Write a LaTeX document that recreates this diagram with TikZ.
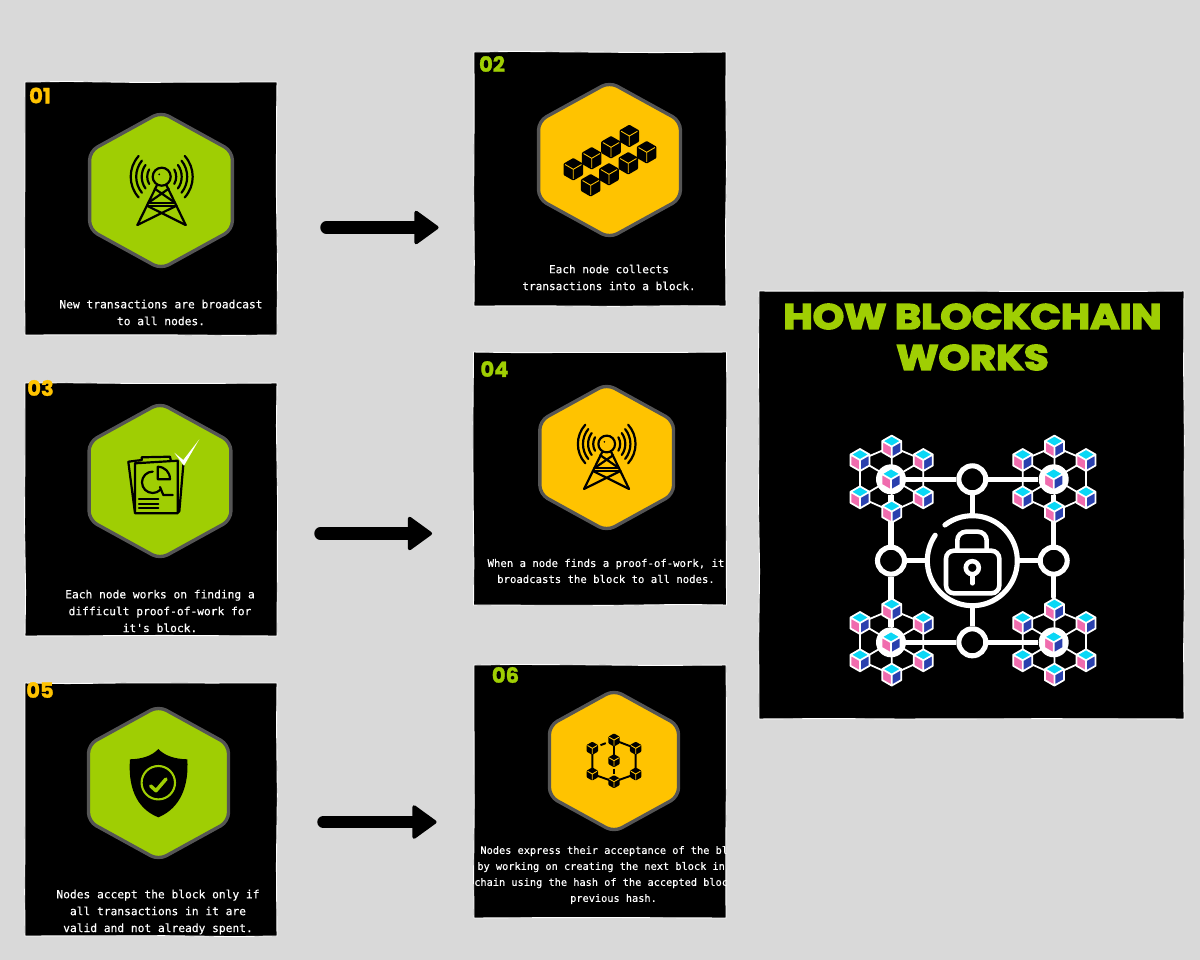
\documentclass[tikz,border=0pt]{standalone}
\usepackage{fontspec}
\newfontfamily\cardfont{DejaVu Sans Mono}[FakeBold=0.3]
\newfontfamily\headfont{Poppins}[BoldFeatures={FakeBold=1.4}]
\newfontfamily\titlefont{Poppins}[BoldFeatures={FakeBold=4.5,FakeStretch=1.14}]
\definecolor{canvasgray}{HTML}{D9D9D9}
\definecolor{limegreen}{HTML}{9FCE03}
\definecolor{amber}{HTML}{FFC300}
\definecolor{rimgray}{HTML}{555555}
\definecolor{cubecyan}{HTML}{0AD7F5}
\definecolor{cubepink}{HTML}{F06CAE}
\definecolor{cubeblue}{HTML}{2A40AE}
\usetikzlibrary{arrows.meta, positioning, shapes.geometric, calc, decorations.pathmorphing}

\begin{document}
\begin{tikzpicture}[
    x=0.02cm, y=-0.02cm,
    card/.style={
      rectangle, fill=black, draw=white, line width=0.5pt,
      decorate, decoration={random steps, segment length=1.4cm, amplitude=0.35pt},
      minimum width=#1, inner sep=0pt
    },
    hexbadge/.style={
      regular polygon, regular polygon sides=6, shape border rotate=30,
      fill=#1, draw=rimgray, line width=1.9pt, rounded corners=5pt,
      xscale=1.05, inner sep=0pt
    },
    steptext/.style 2 args={
      font=\cardfont\fontsize{#1}{#2}\selectfont, text=white, align=center, inner sep=0pt
    },
    stepnum/.style={font=\headfont\bfseries\fontsize{12}{12}\selectfont, text=#1, inner sep=0pt},
    flow/.style={
      line width=7pt, line cap=round,
      -{Triangle[length=14.5pt, width=20.5pt, round, line width=2pt]}
    },
    iconline/.style={draw=black, line width=1.25pt, line join=round, line cap=round},
    bigline/.style={draw=white, line width=2.9pt, line cap=round},
    ringnode/.style={circle, draw=white, fill=black, line width=2.9pt, minimum size=0.54cm, inner sep=0pt},
    hubnode/.style={circle, fill=white, minimum size=0.6cm, inner sep=0pt},
    signaltower/.pic={
      \draw[iconline] (0,0) circle (9);
      \fill[black] (-2.5,-2.3) circle (1);
      \foreach \r/\a in {31/42,25.5/39,20/36,14.5/30} {
        \draw[iconline] (-\a:\r) arc[start angle=-\a, end angle=\a, radius=\r];
        \draw[iconline] ({180-\a}:\r) arc[start angle={180-\a}, end angle={180+\a}, radius=\r];
      }
      \draw[iconline] (-24.3,48.3) -- (-5,9) (24,48.3) -- (5,9);
      \draw[iconline] (-13.3,26) -- (13.3,26) (-14.8,29) -- (14.8,29);
      \draw[iconline] (-7,12) -- (13.3,26) (7,12) -- (-13.3,26);
      \draw[iconline] (-14.8,29) -- (24,48.3) (14.8,29) -- (-24.3,48.3);
    },
    solidcube/.pic={
      \fill[black, rounded corners=0.5pt] (0,-1) -- (0.866,-0.5) -- (0.866,0.5) -- (0,1) -- (-0.866,0.5) -- (-0.866,-0.5) -- cycle;
      \draw[#1, line width=0.5pt] (-0.72,-0.42) -- (0,0) -- (0.72,-0.42) (0,0) -- (0,0.85);
    },
    blockcube/.pic={
      \fill[cubecyan] (0,-1) -- (0.866,-0.5) -- (0,0) -- (-0.866,-0.5) -- cycle;
      \fill[cubepink] (-0.866,-0.5) -- (0,0) -- (0,1) -- (-0.866,0.5) -- cycle;
      \fill[cubeblue] (0.866,-0.5) -- (0,0) -- (0,1) -- (0.866,0.5) -- cycle;
      \draw[white, line width=1pt, line join=round] (0,-1) -- (0.866,-0.5) -- (0.866,0.5) -- (0,1) -- (-0.866,0.5) -- (-0.866,-0.5) -- cycle
        (-0.866,-0.5) -- (0,0) -- (0.866,-0.5) (0,0) -- (0,1);
    },
    blockcluster/.pic={
      \draw[white, line width=1pt] (0.7,-32.7) -- (32.3,-19.3) -- (32.3,18) -- (0.7,32.3) -- (-31,18) -- (-31,-19.3) -- cycle
        (0.7,-32.7) -- (0.7,32.3) (32.3,-19.3) -- (-31,18) (32.3,18) -- (-31,-19.3);
      \foreach \ox/\oy in {0.7/-32.7,32.3/-19.3,32.3/18,0.7/32.3,-31/18,-31/-19.3,0/0} {
        \pic[scale=11] at (\ox,\oy) {blockcube};
      }
    }
  ]
    \fill[canvasgray] (0,0) rectangle (1200,960);
    \useasboundingbox (0,0) rectangle (1200,960);

    % cards
    \node[card=5.04cm, minimum height=5.06cm] (card1) at (151,208.5) {};
    \node[card=5.04cm, minimum height=5.08cm] (card2) at (600,179)   {};
    \node[card=5.04cm, minimum height=5.06cm] (card3) at (151,509.5) {};
    \node[card=5.06cm, minimum height=5.06cm] (card4) at (600,478.5) {};
    \node[card=5.04cm, minimum height=5.06cm] (card5) at (151,809.5) {};
    \node[card=5.04cm, minimum height=5.06cm] (card6) at (600,791.5) {};
    \node[card=8.5cm,  minimum height=8.56cm] (cardhow) at (971.5,505) {};

    % badges
    \node[hexbadge=limegreen, minimum size=3.14cm] (hex1) at (161,190.5) {};
    \node[hexbadge=amber,     minimum size=3.12cm] (hex2) at (609.5,160) {};
    \node[hexbadge=limegreen, minimum size=3.12cm] (hex3) at (160,481)   {};
    \node[hexbadge=amber,     minimum size=2.94cm] (hex4) at (606.7,457.5) {};
    \node[hexbadge=limegreen, minimum size=3.08cm] (hex5) at (158.5,783) {};
    \node[hexbadge=amber,     minimum size=2.84cm] (hex6) at (614,761)   {};

    % numbers
    \node[stepnum=amber]     (num1) at (40,95.5)  {01};
    \node[stepnum=limegreen] (num2) at (492,64)   {02};
    \node[stepnum=amber]     (num3) at (40.5,388) {03};
    \node[stepnum=limegreen] (num4) at (494.5,369){04};
    \node[stepnum=amber]     (num5) at (40,690)   {05};
    \node[stepnum=limegreen] (num6) at (505.5,675){06};

    % captions
    \node[steptext={6.4}{9.6}] (txt1) at (161,312.5) {New transactions are broadcast\\to all nodes.};
    \node[steptext={6.3}{9.6}] (txt2) at (609,277.5) {Each node collects\\transactions into a block.};
    \node[steptext={6.4}{9.6}] (txt3) at (160,611)   {Each node works on finding a\\difficult proof-of-work for\\it's block.};
    \node[steptext={6.05}{9.1}] (txt4) at (606,571)  {When a node finds a proof-of-work, it\\broadcasts the block to all nodes.};
    \node[steptext={6.4}{9.6}] (txt5) at (158,912)   {Nodes accept the block only if\\all transactions in it are\\valid and not already spent.};
    \begin{scope}
      \clip (card6.south west) rectangle (card6.north east);
      \node[steptext={5.85}{9.1}] (txt6) at (613.5,875) {Nodes express their acceptance of the bl\phantom{ock}\\by working on creating the next block in\phantom{ the}\\chain using the hash of the accepted bloc\phantom{k as}\\previous hash.};
    \end{scope}

    % arrows
    \draw[flow] ($(card1.east)+(49,19)$) -- ($(card2.west)+(-35,48.5)$);
    \draw[flow] ($(card3.east)+(43,24)$) -- ($(card4.west)+(-41,55)$);
    \draw[flow] ($(card5.east)+(46,12.5)$) -- ($(card6.west)+(-37,30.5)$);

    % tower icons
    \pic at (161.7,176.7) {signaltower};
    \pic[scale=0.93] at (606.7,444) {signaltower};

    % cube row
    \foreach \cx/\cy in {573.3/169.3,591.7/158.3,611/147.3,629.3/136,646.7/152.3,628.3/163.3,609/174.3,590.7/185.3} {
      \pic[scale=11.3] at (\cx,\cy) {solidcube=amber};
    }

    % report icon
    \draw[iconline] (141.7,460) -- (128.3,461.7) -- (135,513.3) -- (177.7,513.3) -- (177.7,460.7) -- (135,463.3) -- (135,513.3);
    \draw[iconline] (141.7,460) -- (141.7,457.3) -- (170,456.7) -- (170.7,460);
    \draw[iconline] (183.3,465) -- (179.3,511.7);
    \draw[iconline] (152.7,471.6) arc[start angle=270, end angle=45, radius=10.7];
    \draw[iconline] (157.7,466.7) -- (157.7,479.3) -- (170,479.3) .. controls (170,472) and (165,467) .. (157.7,466.7);
    \draw[iconline] (160,487) -- (163.3,495) -- (172.7,495);
    \foreach \ly in {499,503.7,508.3} {
      \draw[iconline] (139,\ly) -- (158.3,\ly);
    }
    \fill[white] (174.3,452.7) -- (183.3,460) -- (199.3,439.3) -- (184,465.7) -- cycle;

    % shield icon
    \fill[black] (158.3,749) .. controls (152,756) and (142,759) .. (130,759.3)
      .. controls (128,785) and (135,808) .. (158.3,817.3)
      .. controls (181,808) and (189,785) .. (187.3,759.3)
      .. controls (175,759) and (165,756) .. (158.3,749) -- cycle;
    \draw[limegreen, line width=1.2pt] (158.3,782.7) circle (16.7);
    \draw[limegreen, line width=2pt, line cap=round, line join=round] (150.7,786) -- (156,790.7) -- (166,779);

    % network icon
    \foreach \nm/\cx/\cy in {netT/614/740,netUR/635.7/748.3,netLR/635.7/774,netB/614/781.7,netLL/592.3/774,netUL/592.3/748.3,netC/614/760.7} {
      \coordinate (\nm) at (\cx,\cy);
    }
    \draw[black, line width=1.1pt, shorten >=5pt, shorten <=5pt]
      (netT) -- (netUR) (netUR) -- (netLR) (netLR) -- (netB) (netB) -- (netLL) (netLL) -- (netUL) (netUL) -- (netT);
    \draw[black, line width=1.1pt, shorten >=4.5pt, shorten <=4.5pt] (netT) -- (netC) (netC) -- (netB);
    \foreach \nm in {netT,netUR,netLR,netB,netLL,netUL,netC} {
      \pic[scale=6.6] at (\nm) {solidcube=amber};
    }

    % title
    \node[font=\titlefont\bfseries\fontsize{20}{23.3}\selectfont, text=limegreen, align=center, inner sep=0pt] (howtitle) at (972.5,337) {HOW BLOCKCHAIN\\WORKS};

    % lock network
    \node[hubnode]  (hubTL) at (891,479.3)    {};
    \node[hubnode]  (hubTR) at (1053.7,479.3) {};
    \node[hubnode]  (hubBL) at (891,642.3)    {};
    \node[hubnode]  (hubBR) at (1053.7,642.3) {};
    \node[ringnode] (ringT) at (972.3,479.3)  {};
    \node[ringnode] (ringL) at (891,560.7)    {};
    \node[ringnode] (ringR) at (1053.7,560.7) {};
    \node[ringnode] (ringB) at (972.3,642.3)  {};
    \node[circle, minimum size=1.8cm, inner sep=0pt] (lockring) at (972.3,560.7) {};
    \coordinate (gapBR) at (1053.7,596.7);

    \draw[bigline, line cap=butt] (hubTL) -- (ringT);
    \draw[bigline, line cap=butt] (ringT) -- (hubTR);
    \draw[bigline, line cap=butt] (hubBL) -- (ringB);
    \draw[bigline, line cap=butt] (ringB) -- (hubBR);
    \draw[bigline, line cap=butt] (hubTL) -- (ringL);
    \draw[bigline, line cap=butt] (ringL) -- (hubBL);
    \draw[bigline, line cap=butt] (hubTR) -- (ringR);
    \draw[bigline] (ringR) -- (gapBR);
    \draw[bigline, line cap=butt] (ringT) -- (lockring);
    \draw[bigline, line cap=butt] (ringB) -- (lockring);
    \draw[bigline, line cap=butt] (ringL) -- (lockring);
    \draw[bigline, line cap=butt] (ringR) -- (lockring);

    \draw[bigline] (972.3,560.7) ++(232.5:45) arc[start angle=232.5, end angle=574.5, radius=45];
    \draw[bigline, line width=2.6pt, rounded corners=4.5pt] (946,550.7) rectangle (999.3,593.3);
    \draw[bigline, line width=2.6pt, rounded corners=5pt] (957.3,550.7) -- (957.3,531.7) -- (986.7,531.7) -- (986.7,550.7);
    \draw[bigline, line width=2.6pt] (972.3,567.7) circle (6.5);
    \draw[bigline, line width=2.6pt] (972.3,575) -- (972.3,583.3);

    \pic at (hubTL) {blockcluster};
    \pic at (hubTR) {blockcluster};
    \pic at (hubBL) {blockcluster};
    \pic at (hubBR) {blockcluster};
  \end{tikzpicture}
\end{document}
